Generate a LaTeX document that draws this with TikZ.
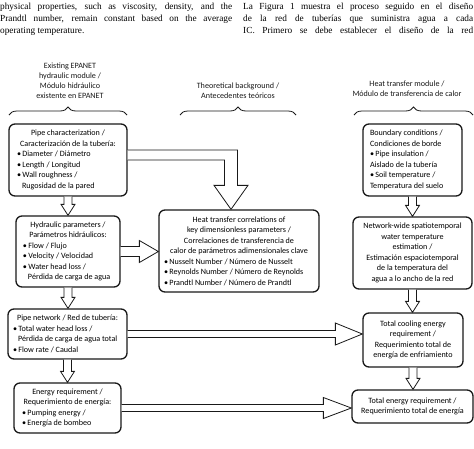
\documentclass[tikz,border=0pt]{standalone}
\usepackage{fontspec}
\setmainfont{Liberation Serif}
\newfontfamily\diag{Carlito}
\usetikzlibrary{decorations.pathreplacing,calc}
\definecolor{ink}{RGB}{25,25,25}
\newcommand\bx[2]{\begin{minipage}{#1}\diag\fontsize{8.1}{10.5}\selectfont #2\end{minipage}}
\newcommand\hd[1]{{\centering #1\par}}
\newcommand\bi[1]{\par\noindent\hangindent=5pt\hangafter=1 •\,#1\par}
\newcommand\varr[2]{\draw[harrow] let \p1=(#1.south), \p2=(#2.north) in
  (\x1-4pt,\y1) -- (\x1-4pt,\y2+11pt) -- (\x1-7pt,\y2+11pt) -- (\x1,\y2) -- (\x1+7pt,\y2+11pt) -- (\x1+4pt,\y2+11pt) -- (\x1+4pt,\y1);}
\newcommand\harr[5]{\draw[harrow] let \p1=(#1.east), \p2=(#2.west) in
  (\x1,\y1+#3) -- (\x2-#5,\y1+#3) -- (\x2-#5,\y1+#4) -- (\x2,\y1) -- (\x2-#5,\y1-#4) -- (\x2-#5,\y1-#3) -- (\x1,\y1-#3);}
\begin{document}
\begin{tikzpicture}[x=1pt,y=-1pt,
  box/.style={draw=ink, line width=1.3pt, rounded corners=6pt, inner sep=0pt, fill=white},
  harrow/.style={draw=ink, line width=0.8pt, fill=white, line join=miter},
  bracestyle/.style={draw=ink, decorate, decoration={brace, amplitude=8pt}, line width=0.8pt},
  lbl/.style={font=\diag\fontsize{8.1}{10}\selectfont, align=center, inner sep=0pt, text=ink}]
\useasboundingbox (0,0) rectangle (474,448);
\fill[white] (0,0) rectangle (474,448);
% top text
\node[anchor=base west, inner sep=0pt] (txtl) at (0,9) {\parbox[t]{232pt}{\fontsize{9.3}{12}\selectfont
physical properties, such as viscosity, density, and the\linebreak
Prandtl number, remain constant based on the average\linebreak
operating temperature.}};
\node[anchor=base west, inner sep=0pt] (txtr) at (243,9) {\parbox[t]{230pt}{\fontsize{9.3}{12}\selectfont
La Figura 1 muestra el proceso seguido en el diseño\linebreak
de la red de tuberías que suministra agua a cada\linebreak
IC. Primero se debe establecer el diseño de la red\linebreak
}};
% labels and braces
\node[lbl] (l1) at (70,81) {Existing EPANET\\hydraulic module /\\Módulo hidráulico\\existente en EPANET};
\node[lbl] (l2) at (238,90.5) {Theoretical background /\\Antecedentes teóricos};
\node[lbl] (l3) at (407,89) {Heat transfer module /\\Módulo de transferencia de calor};
\draw[bracestyle] (9,115) -- (127,115);
\draw[bracestyle] (180,115) -- (296,115);
\draw[bracestyle] (354,115) -- (473,115);
% boxes
\node[box, minimum width=118, minimum height=72] (pc) at (68,160) {\bx{102pt}{\hd{Pipe characterization /\\Caracterización de la tubería:}\bi{Diameter / Diámetro}\bi{Length / Longitud}\bi{Wall roughness /\\Rugosidad de la pared}}};
\node[box, minimum width=104, minimum height=71] (hp) at (68,251.5) {\bx{90pt}{\hd{Hydraulic parameters /\\Parámetros hidráulicos:}\bi{Flow / Flujo}\bi{Velocity / Velocidad}\bi{Water head loss /\\Pérdida de carga de agua}}};
\node[box, minimum width=119, minimum height=50] (pn) at (67.5,334) {\bx{109pt}{\hd{Pipe network / Red de tubería:}\bi{Total water head loss /\\Pérdida de carga de agua total}\bi{Flow rate / Caudal}}};
\node[box, minimum width=107, minimum height=50] (er) at (67.5,408) {\bx{91pt}{\hd{Energy requirement /\\Requerimiento de energía:}\bi{Pumping energy /}\bi{Energía de bombeo}}};
\node[box, minimum width=160, minimum height=82] (ht) at (239,251) {\bx{150pt}{\hd{Heat transfer correlations of\\key dimensionless parameters /\\Correlaciones de transferencia de\\calor de parámetros adimensionales clave}\bi{Nusselt Number / Número de Nusselt}\bi{Reynolds Number / Número de Reynolds}\bi{Prandtl Number / Número de Prandtl}}};
\node[box, minimum width=99, minimum height=72] (bc) at (412.5,160) {\bx{85pt}{\raggedright Boundary conditions /\\Condiciones de borde\par\bi{Pipe insulation /\\Aislado de la tubería}\bi{Soil temperature /\\Temperatura del suelo}}};
\node[box, minimum width=119, minimum height=72] (nw) at (412.5,253) {\bx{110pt}{\hd{Network-wide spatiotemporal\\water temperature\\estimation /\\Estimación espaciotemporal\\de la temperatura del\\agua a lo ancho de la red}}};
\node[box, minimum width=100, minimum height=54] (tc) at (413,340) {\bx{92pt}{\hd{Total cooling energy\\requirement /\\Requerimiento total de\\energía de enfriamiento}}};
\node[box, minimum width=121, minimum height=33] (te) at (412.5,406.5) {\bx{115pt}{\hd{Total energy requirement /\\Requerimiento total de energía}}};
% arrows
\varr{pc}{hp}
\varr{hp}{pn}
\varr{pn}{er}
\varr{bc}{nw}
\varr{nw}{tc}
\varr{tc}{te}
\harr{hp}{ht}{5pt}{11pt}{19pt}
\harr{pn}{tc}{3.5pt}{11pt}{27pt}
\harr{er}{te}{3.5pt}{10.5pt}{28pt}
\draw[harrow] let \p1=(pc.east), \p2=(ht.north) in
  (\x1,\y1+10pt) -- (\x2-1.5pt,\y1+10pt) -- (\x2-1.5pt,\y2+24pt) -- (\x2+9pt,\y2+24pt) -- (\x2-8pt,\y2) -- (\x2-25pt,\y2+24pt) -- (\x2-14.5pt,\y2+24pt) -- (\x2-14.5pt,\y1) -- (\x1,\y1);
\end{tikzpicture}
\end{document}
